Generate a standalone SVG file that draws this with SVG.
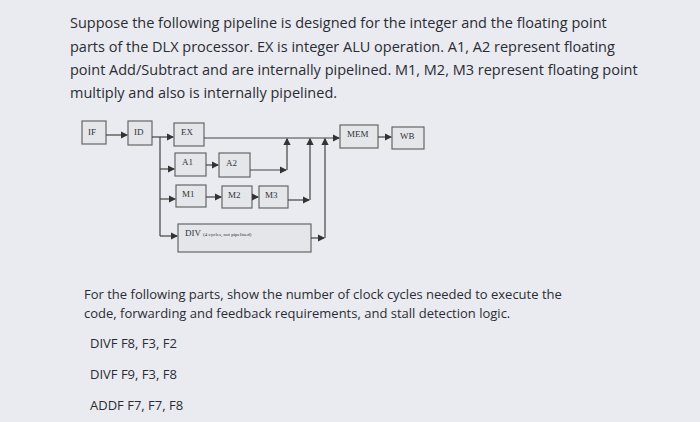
<svg xmlns="http://www.w3.org/2000/svg" width="700" height="422" viewBox="0 0 700 422">
<defs>
<marker id="a" markerWidth="6" markerHeight="6" refX="5" refY="3" orient="auto"><path d="M0,0 L6,3 L0,6 z" fill="#333"/></marker>
<style>
.t{font-family:"Open Sans",sans-serif;font-size:14.5px;fill:#2b2b33}
.s{font-family:"Open Sans",sans-serif;font-size:13px;fill:#2b2b33}
.b{fill:#e4e6ea;stroke:#666;stroke-width:1.2}
.l{font-family:"Liberation Serif",serif;font-size:9px;fill:#333}
.c{fill:none;stroke:#444;stroke-width:1.2}
</style>
</defs>
<rect width="700" height="422" fill="#e9ebf0"/>
<text class="t" x="70" y="28">Suppose the following pipeline is designed for the integer and the floating point</text>
<text class="t" x="70" y="52">parts of the DLX processor. EX is integer ALU operation. A1, A2 represent floating</text>
<text class="t" x="70" y="75">point Add/Subtract and are internally pipelined. M1, M2, M3 represent floating point</text>
<text class="t" x="70" y="98">multiply and also is internally pipelined.</text>
<g id="IF"><rect class="b" x="82" y="121" width="24" height="23"/><text class="l" x="88" y="135">IF</text></g>
<g id="ID"><rect class="b" x="128" y="121" width="24" height="24"/><text class="l" x="134" y="135">ID</text></g>
<g id="EX"><rect class="b" x="174" y="123" width="30" height="23"/><text class="l" x="181" y="135">EX</text></g>
<g id="MEM"><rect class="b" x="340" y="125" width="38" height="23"/><text class="l" x="347" y="137" font-size="7">MEM</text></g>
<g id="WB"><rect class="b" x="392" y="127" width="32" height="22"/><text class="l" x="400" y="139">WB</text></g>
<g id="A1"><rect class="b" x="175" y="153" width="31" height="23"/><text class="l" x="182" y="165">A1</text></g>
<g id="A2"><rect class="b" x="219" y="153" width="31" height="24"/><text class="l" x="226" y="166">A2</text></g>
<g id="M1"><rect class="b" x="176" y="185" width="30" height="22"/><text class="l" x="182" y="197">M1</text></g>
<g id="M2"><rect class="b" x="222" y="186" width="30" height="22"/><text class="l" x="228" y="198">M2</text></g>
<g id="M3"><rect class="b" x="259" y="186" width="29" height="22"/><text class="l" x="265" y="198">M3</text></g>
<g id="DIV"><rect class="b" x="178" y="224" width="133" height="28"/><text class="l" x="185" y="236">DIV <tspan font-size="5">(4 cycles, not pipelined)</tspan></text></g>
<g id="connectors">
<path class="c" d="M106,135 H127" marker-end="url(#a)"/>
<path class="c" d="M152,137 H173" marker-end="url(#a)"/>
<path class="c" d="M160,137 V236"/>
<path class="c" d="M160,169 H174" marker-end="url(#a)"/>
<path class="c" d="M160,199 H175" marker-end="url(#a)"/>
<path class="c" d="M160,236 H177" marker-end="url(#a)"/>
<path class="c" d="M206,165 H218" marker-end="url(#a)"/>
<path class="c" d="M206,197 H221" marker-end="url(#a)"/>
<path class="c" d="M252,197 H258" marker-end="url(#a)"/>
<path class="c" d="M204,138 H339" marker-end="url(#a)"/>
<path class="c" d="M250,170 H286" marker-end="url(#a)"/>
<path class="c" d="M287,170 V139" marker-end="url(#a)"/>
<path class="c" d="M288,200 H309" marker-end="url(#a)"/>
<path class="c" d="M310,200 V139" marker-end="url(#a)"/>
<path class="c" d="M311,238 H324" marker-end="url(#a)"/>
<path class="c" d="M325,238 V139" marker-end="url(#a)"/>
<path class="c" d="M378,137 H391" marker-end="url(#a)"/>
</g>
<text class="s" x="84" y="299">For the following parts, show the number of clock cycles needed to execute the</text>
<text class="s" x="84" y="318">code, forwarding and feedback requirements, and stall detection logic.</text>
<text class="s" x="90" y="348">DIVF F8, F3, F2</text>
<text class="s" x="90" y="379">DIVF F9, F3, F8</text>
<text class="s" x="90" y="410">ADDF F7, F7, F8</text>
</svg>
